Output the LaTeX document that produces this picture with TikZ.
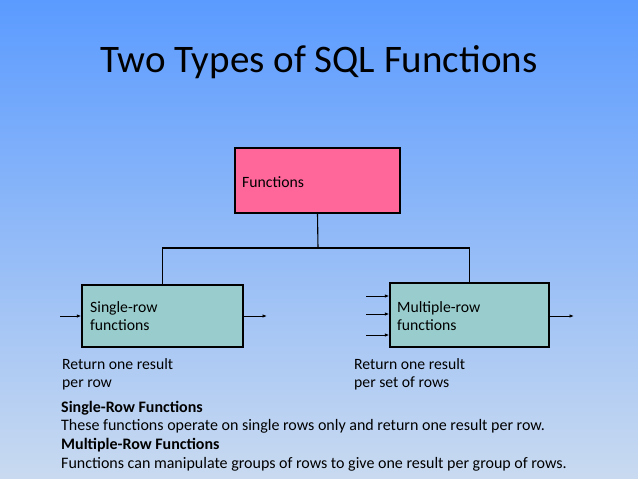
\documentclass[tikz,border=0pt]{standalone}
\usepackage{fontspec}
\setmainfont{Carlito}
\usetikzlibrary{arrows.meta}
\definecolor{bgtop}{HTML}{5B9BFF}
\definecolor{bgbot}{HTML}{C9DAF0}
\definecolor{pinkbox}{HTML}{FF6699}
\definecolor{tealbox}{HTML}{99CCCC}
\begin{document}
\begin{tikzpicture}[x=1pt,y=-1pt,
  box/.style={draw=black,line width=1.3pt,inner sep=0pt},
  conn/.style={line width=1.1pt},
  arr/.style={line width=1pt,-{Latex[length=4.5pt,width=3.5pt]}},
  lbl/.style={anchor=west,font=\fontsize{15.7}{18}\selectfont,align=left,inner sep=0pt},
  body/.style={anchor=west,font=\fontsize{16}{18}\selectfont,inner sep=0pt}]
\shade[top color=bgtop,bottom color=bgbot] (0,0) rectangle (638,479);
\useasboundingbox (0,0) rectangle (638,479);
\node (title) at (319,62) {\fontsize{39}{44}\selectfont Two Types of SQL Functions};
\node[box,fill=pinkbox,minimum width=165pt,minimum height=65pt] (f) at (317.5,180.5) {};
\node[lbl] (ft) at (242,182) {Functions};
\node[box,fill=tealbox,minimum width=161pt,minimum height=62pt] (s) at (162.5,316) {};
\node[lbl] (st) at (90,316) {Single-row\\functions};
\node[box,fill=tealbox,minimum width=159pt,minimum height=64pt] (m) at (469.5,315) {};
\node[lbl] (mt) at (397,316) {Multiple-row\\functions};
\coordinate (j) at (318,248);
\draw[conn] (f.south) -- (j);
\draw[conn] (s.north) |- (j) -| (m.north);
\coordinate (si) at (60,316); \coordinate (so) at (267,316);
\draw[arr] (si) -- (s.west |- si);
\draw[arr] (s.east |- so) -- (so);
\coordinate (m1) at (366,296); \coordinate (m2) at (366,314); \coordinate (m3) at (366,335);
\coordinate (mo) at (574,316);
\draw[arr] (m1) -- (m.west |- m1);
\draw[arr] (m2) -- (m.west |- m2);
\draw[arr] (m3) -- (m.west |- m3);
\draw[arr] (m.east |- mo) -- (mo);
\node[lbl] (r1) at (62,374) {Return one result\\per row};
\node[lbl] (r2) at (354,374) {Return one result\\per set of rows};
\node[body] (b1) at (61,408) {\bfseries Single-Row Functions};
\node[body] (b2) at (61,426) {These functions operate on single rows only and return one result per row.};
\node[body] (b3) at (61,445) {\bfseries Multiple-Row Functions};
\node[body] (b4) at (61,464) {Functions can manipulate groups of rows to give one result per group of rows.};
\end{tikzpicture}
\end{document}
